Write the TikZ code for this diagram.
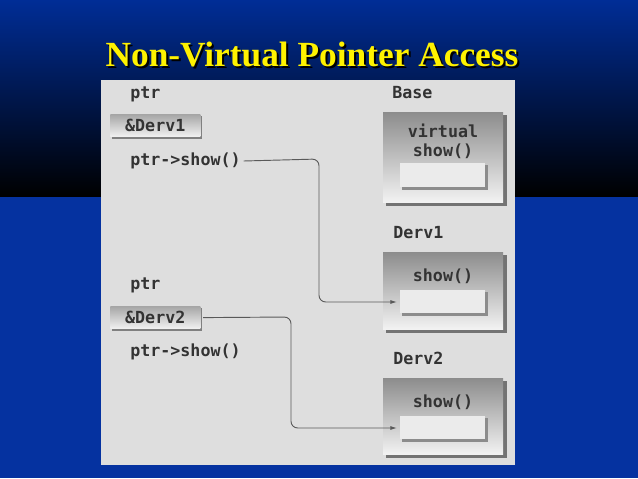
\documentclass[tikz,border=0pt]{standalone}
\usepackage{fontspec}
\setmainfont{Liberation Serif}
\newfontfamily\codefont{DejaVu Sans Mono}
\usetikzlibrary{arrows.meta}
\definecolor{bgtop}{RGB}{0,45,150}
\definecolor{bgblue}{RGB}{5,50,160}
\begin{document}
\begin{tikzpicture}[x=0.75pt,y=-0.75pt,
  code/.style={font=\codefont\bfseries\fontsize{12.5}{14}\selectfont,text=black!80},
  lbl/.style={code,anchor=west,inner sep=0pt},
  ptrbox/.style={code,draw=none,top color=black!35,bottom color=black!5,minimum width=67.5pt,minimum height=17pt,inner sep=0pt},
  objbox/.style={top color=black!45,bottom color=black!5},
  slot/.style={fill=black!8},
  conn/.style={draw=black!65,line width=0.7pt,rounded corners=5pt,-{Latex[length=5pt,width=3pt]}}]
\useasboundingbox (0,0) rectangle (638,478);
% background
\fill[top color=bgtop,bottom color=black] (0,0) rectangle (638,197);
\fill[bgblue] (0,197) rectangle (638,478);
% title
\node[font=\bfseries\fontsize{26.5}{30}\selectfont,text=black] at (314,57) {Non-Virtual Pointer Access};
\node[font=\bfseries\fontsize{26.5}{30}\selectfont,text=yellow] (title) at (312,55) {Non-Virtual Pointer Access};
% panel
\fill[black!13] (101,80) rectangle (515,465);
% left side
\node[lbl] (p1) at (130,94) {ptr};
\fill[black!50] (112,116) rectangle (202,139);
\node[ptrbox,anchor=north west] (d1) at (110,114) {\&Derv1};
\node[lbl] (s1) at (130,161) {ptr->show()};
\node[lbl] (p2) at (130,285) {ptr};
\fill[black!50] (112,308) rectangle (202,331);
\node[ptrbox,anchor=north west] (d2) at (110,306) {\&Derv2};
\node[lbl] (s2) at (130,352) {ptr->show()};
% right objects
\node[lbl] (bl) at (392,93) {Base};
\fill[black!55] (386,115) rectangle (507,206);
\shade[objbox] (383,112) rectangle (503,202);
\node[code,align=center,inner sep=0pt] (bt) at (443,141) {virtual\\show()};
\fill[black!45] (402,165) rectangle (488,190);
\fill[slot] (400,163) rectangle (485,187);

\node[lbl] (l1) at (393,233) {Derv1};
\fill[black!55] (386,255) rectangle (507,333);
\shade[objbox] (383,252) rectangle (503,329);
\node[code] (t1) at (443,276) {show()};
\fill[black!45] (402,292) rectangle (488,316);
\fill[slot] (400,290) rectangle (485,313);
\coordinate (a1) at (397,302);

\node[lbl] (l2) at (393,358) {Derv2};
\fill[black!55] (386,381) rectangle (507,458);
\shade[objbox] (383,378) rectangle (503,454);
\node[code] (t2) at (443,402) {show()};
\fill[black!45] (402,418) rectangle (488,442);
\fill[slot] (400,416) rectangle (485,439);
\coordinate (a2) at (397,428);

\draw[conn] ([xshift=2pt]s1.east) -- (319,159) -- (319,302) -- (a1);
\draw[conn] ([xshift=2pt]d2.east) -- (291,317) -- (291,428) -- (a2);
\end{tikzpicture}
\end{document}
